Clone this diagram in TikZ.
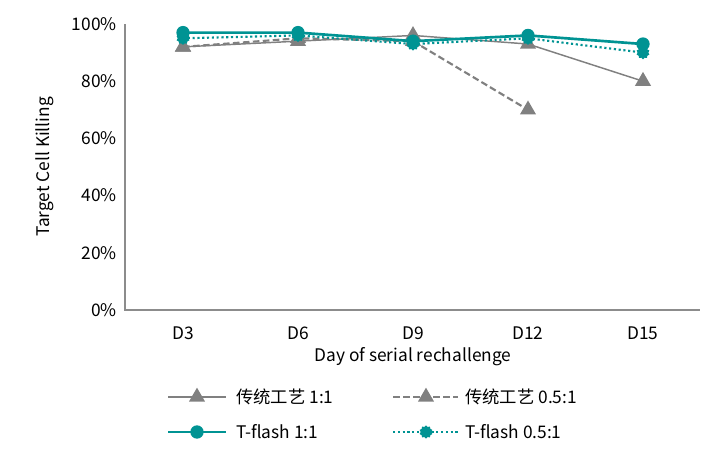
\documentclass[tikz,border=0pt]{standalone}
\usepackage{fontspec}
\setmainfont{Noto Sans CJK SC}
\begin{document}
\begin{tikzpicture}[x=0.75pt,y=-0.75pt,
  lbl/.style={font=\fontsize{13}{15}\selectfont,inner sep=0pt},
  ax/.style={draw=black!45,line width=0.8pt},
  g1/.style={draw=gray,line width=1.1pt},
  g2/.style={draw=gray,line width=1.6pt,dash pattern=on 5pt off 2.5pt},
  t1/.style={draw=teal!85!cyan,line width=2pt},
  t2/.style={draw=teal!85!cyan,line width=1.6pt,dotted},
  tri/.style={fill=gray,draw=none,regular polygon,regular polygon sides=3,minimum size=14pt,inner sep=0pt},
  cir/.style={fill=teal!85!cyan,draw=none,circle,minimum size=10pt,inner sep=0pt},
  cir2/.style={fill=teal!85!cyan,draw=none,star,star points=10,star point ratio=1.25,minimum size=10pt,inner sep=0pt}]
\usetikzlibrary{shapes.geometric}
\path[use as bounding box] (0,0) rectangle (719,451);
% axes
\draw[ax] (125,24) -- (125,310) -- (700,310);
\foreach \v/\t in {0/0\%,20/20\%,40/40\%,60/60\%,80/80\%,100/100\%}
  \node[lbl,anchor=east] (yl\v) at (117,{310-2.86*\v}) {\t};
\foreach \x/\t in {183/D3,298/D6,413/D9,528/D12,643/D15}
  \node[lbl] (xl\t) at (\x,333) {\t};
\node[lbl] (xt) at (413,357) {Day of serial rechallenge};
\node[lbl,rotate=90] (yt) at (45,167) {Target Cell Killing};
% series
\newcommand\pt[2]{({#1},{310-2.86*#2})}
\draw[g1] \pt{183}{92} -- \pt{298}{94} -- \pt{413}{96} -- \pt{528}{93} -- \pt{643}{80};
\foreach \x/\v in {183/92,298/94,413/96,528/93,643/80} \node[tri] at \pt{\x}{\v} {};
\draw[g2] \pt{183}{92} -- \pt{298}{95} -- \pt{413}{94} -- \pt{528}{70};
\foreach \x/\v in {183/92,298/95,413/94,528/70} \node[tri] at \pt{\x}{\v} {};
\draw[t1] \pt{183}{97} -- \pt{298}{97} -- \pt{413}{94} -- \pt{528}{96} -- \pt{643}{93};
\foreach \x/\v in {183/97,298/97,413/94,528/96,643/93} \node[cir] at \pt{\x}{\v} {};
\draw[t2] \pt{183}{95} -- \pt{298}{96} -- \pt{413}{93} -- \pt{528}{95} -- \pt{643}{90};
\foreach \x/\v in {183/95,298/96,413/93,528/95,643/90} \node[cir2] at \pt{\x}{\v} {};
% legend
\coordinate (a1) at (168,397); \coordinate (a2) at (226,397);
\draw[g1] (a1) -- (a2); \node[tri] at (197,397) {};
\node[lbl,anchor=west] (la) at (236,397) {传统工艺 1:1};
\coordinate (b1) at (393,397); \coordinate (b2) at (458,397);
\draw[g2] (b1) -- (b2); \node[tri] at (426,397) {};
\node[lbl,anchor=west] (lb) at (465,397) {传统工艺 0.5:1};
\coordinate (c1) at (168,432); \coordinate (c2) at (226,432);
\draw[t1] (c1) -- (c2); \node[cir] at (197,432) {};
\node[lbl,anchor=west] (lc) at (236,432) {T-flash 1:1};
\coordinate (d1) at (393,432); \coordinate (d2) at (458,432);
\draw[t2] (d1) -- (d2); \node[cir2] at (426,432) {};
\node[lbl,anchor=west] (ld) at (465,432) {T-flash 0.5:1};
\end{tikzpicture}
\end{document}
